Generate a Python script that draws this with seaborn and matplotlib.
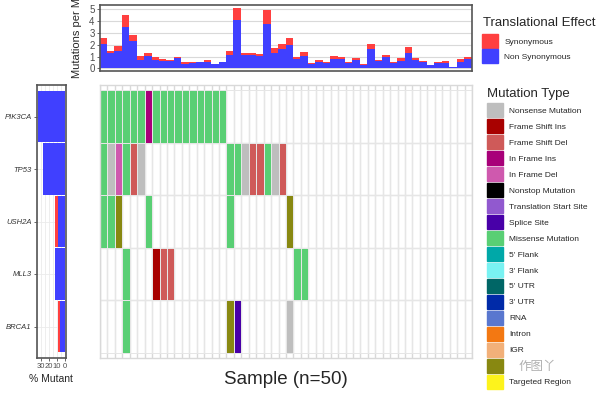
import numpy as np
import matplotlib
matplotlib.use('Agg')
import matplotlib.pyplot as plt
from matplotlib.colors import ListedColormap
from matplotlib.patches import Patch
import seaborn as sns

# ---- data ----
genes = ['PIK3CA', 'TP53', 'USH2A', 'MLL3', 'BRCA1']
n_samples = 50

mutation_types = ['Nonsense Mutation', 'Frame Shift Ins', 'Frame Shift Del', 'In Frame Ins',
                  'In Frame Del', 'Nonstop Mutation', 'Translation Start Site', 'Splice Site',
                  'Missense Mutation', "5' Flank", "3' Flank", "5' UTR", "3' UTR", 'RNA',
                  'Intron', 'IGR', 'Silent', 'Targeted Region']
type_colors = ['#BEBEBE', '#A80100', '#CF5A59', '#A80079', '#CF59AE', '#000000', '#9159CF',
               '#4800A8', '#59CF74', '#00A8A8', '#79F2F2', '#006666', '#002AA8', '#5977CF',
               '#F37812', '#F2B079', '#888811', '#FDF31C']
synonymous_types = ['Silent']

# mutated samples (1-based) and their mutation type, per gene
pik3ca_samples = list(range(1, 18))
pik3ca_types = ['Missense Mutation'] * 6 + ['In Frame Ins'] + ['Missense Mutation'] * 10
tp53_samples = [1, 2, 3, 4, 5, 6, 18, 19, 20, 21, 22, 23, 24, 25]
tp53_types = ['Missense Mutation', 'Nonsense Mutation', 'In Frame Del', 'Missense Mutation',
              'Frame Shift Del', 'Nonsense Mutation', 'Missense Mutation', 'Missense Mutation',
              'Nonsense Mutation', 'Frame Shift Del', 'Frame Shift Del', 'Missense Mutation',
              'Nonsense Mutation', 'Frame Shift Del']
ush2a_samples = [1, 2, 3, 7, 18, 26]
ush2a_types = ['Missense Mutation', 'Missense Mutation', 'Silent', 'Missense Mutation',
               'Missense Mutation', 'Silent']
mll3_samples = [4, 8, 9, 10, 27, 28]
mll3_types = ['Missense Mutation', 'Frame Shift Ins', 'Frame Shift Del', 'Frame Shift Del',
              'Missense Mutation', 'Missense Mutation']
brca1_samples = [4, 18, 19, 26]
brca1_types = ['Missense Mutation', 'Silent', 'Splice Site', 'Nonsense Mutation']

# mutations per MB per sample
nonsyn_burden = [2.1, 1.33, 1.5, 3.5, 2.3, 0.68, 1.07, 0.72, 0.6, 0.6,
                 0.85, 0.4, 0.43, 0.55, 0.55, 0.38, 0.5, 1.12, 4.1, 1.1,
                 1.1, 1.05, 3.8, 1.33, 1.65, 2.0, 0.8, 1.05, 0.4, 0.57,
                 0.43, 0.8, 0.8, 0.43, 0.68, 0.3, 1.65, 0.6, 1.0, 0.43,
                 0.65, 1.27, 0.68, 0.5, 0.25, 0.45, 0.45, 0.1, 0.5, 0.77]
syn_burden = [0.5, 0.17, 0.4, 1.0, 0.55, 0.37, 0.26, 0.28, 0.17, 0.12,
              0.15, 0.15, 0.07, 0.02, 0.17, 0.0, 0.05, 0.35, 1.0, 0.17,
              0.23, 0.15, 1.15, 0.42, 0.45, 0.55, 0.2, 0.3, 0.03, 0.15,
              0.14, 0.25, 0.15, 0.12, 0.22, 0.03, 0.45, 0.12, 0.1, 0.12,
              0.25, 0.5, 0.22, 0.12, 0.05, 0.1, 0.15, 0.02, 0.3, 0.18]

# ---- style ----
sns.set_style('white')
plt.rcParams['font.family'] = ['Liberation Sans', 'Noto Sans CJK SC', 'DejaVu Sans']

RED = '#FF4040'
BLUE = '#4040FF'
GRID = '#D9D9D9'
FRAME = '#555555'

W, H = 600, 397
fig = plt.figure(figsize=(6, 3.97), dpi=100)


def box(x0, y0, x1, y1):
    return [x0 / W, 1 - y1 / H, (x1 - x0) / W, (y1 - y0) / H]


ax_top = fig.add_axes(box(99.5, 5, 471.5, 71))
ax_main = fig.add_axes(box(100, 85, 472, 358))
ax_left = fig.add_axes(box(36.5, 85, 66, 358))

# ---- mutation matrix ----
calls = {
    'PIK3CA': (pik3ca_samples, pik3ca_types),
    'TP53': (tp53_samples, tp53_types),
    'USH2A': (ush2a_samples, ush2a_types),
    'MLL3': (mll3_samples, mll3_types),
    'BRCA1': (brca1_samples, brca1_types),
}
mat = np.full((len(genes), n_samples), np.nan)
for gi, g in enumerate(genes):
    samples, types = calls[g]
    for s, t in zip(samples, types):
        mat[gi, s - 1] = mutation_types.index(t)

cmap = ListedColormap(type_colors)
for x in range(n_samples + 1):
    ax_main.axvline(x, color=GRID, lw=1, zorder=0.5)
for y in range(1, len(genes)):
    ax_main.axhline(y, color=GRID, lw=1, zorder=0.5)
sns.heatmap(mat, mask=np.isnan(mat), cmap=cmap, vmin=-0.5, vmax=len(type_colors) - 0.5,
            cbar=False, linewidths=0.6, linecolor='#E6E6E6', ax=ax_main,
            xticklabels=False, yticklabels=False)
ax_main.set_xlim(0, n_samples)
ax_main.set_ylim(len(genes) + 0.1, -0.1)
for s in ax_main.spines.values():
    s.set_visible(True)
    s.set_color(GRID)
    s.set_linewidth(1)
ax_main.tick_params(left=False, bottom=False)
fig.text(286 / W, 1 - 380 / H, 'Sample (n=50)', ha='center', va='center', fontsize=13.5)

# ---- top: mutation burden ----
sample_idx = np.arange(n_samples)
total_burden = np.array(nonsyn_burden) + np.array(syn_burden)
sns.barplot(x=sample_idx, y=total_burden, color=RED, width=1, saturation=1,
            linewidth=0, errorbar=None, ax=ax_top)
sns.barplot(x=sample_idx, y=nonsyn_burden, color=BLUE, width=1, saturation=1,
            linewidth=0, errorbar=None, ax=ax_top)
ax_top.set_xlim(-0.5, n_samples - 0.5)
ax_top.set_ylim(-0.23, 5.37)
ax_top.set_yticks(range(6))
ax_top.set_xticks([])
ax_top.set_xlabel('')
ax_top.yaxis.grid(True, color=GRID, lw=0.8)
ax_top.set_axisbelow(True)
for s in ax_top.spines.values():
    s.set_color(FRAME)
    s.set_linewidth(1.2)
ax_top.tick_params(axis='y', labelsize=7, labelcolor='#4D4D4D', length=2, width=0.6,
                   color='#4D4D4D', pad=1.5, left=True)
ax_top.set_ylabel('Mutations per MB', fontsize=8)
ax_top.yaxis.set_label_coords((82 - 99.5) / 372, (71 - 34) / 66)

# ---- left: % mutant ----
nonsyn_pct = []
syn_pct = []
for g in genes:
    _, types = calls[g]
    syn = sum(t in synonymous_types for t in types)
    syn_pct.append(100 * syn / n_samples)
    nonsyn_pct.append(100 * (len(types) - syn) / n_samples)
total_pct = np.array(nonsyn_pct) + np.array(syn_pct)
sns.barplot(x=total_pct, y=genes, orient='h', color=RED, width=0.98, saturation=1,
            linewidth=0, errorbar=None, ax=ax_left)
sns.barplot(x=nonsyn_pct, y=genes, orient='h', color=BLUE, width=0.98, saturation=1,
            linewidth=0, errorbar=None, ax=ax_left)
ax_left.set_xlim(35.7, -1.7)
ax_left.set_ylim(len(genes) - 0.4, -0.6)
ax_left.set_xticks([30, 20, 10, 0])
ax_left.set_xticks([35, 25, 15, 5], minor=True)
ax_left.xaxis.grid(True, which='both', color='#EBEBEB', lw=0.6)
ax_left.yaxis.grid(True, color='#EBEBEB', lw=0.6)
ax_left.set_axisbelow(True)
for s in ax_left.spines.values():
    s.set_color(FRAME)
    s.set_linewidth(1.2)
ax_left.tick_params(axis='x', which='major', labelsize=5.5, labelcolor='#4D4D4D', length=2,
                    width=0.6, color='#4D4D4D', pad=1.5, bottom=True)
ax_left.tick_params(axis='x', which='minor', length=0)
ax_left.tick_params(axis='y', labelsize=5.5, labelcolor='#333333', length=2, width=0.6,
                    color='#4D4D4D', pad=1.5, left=True)
for lab in ax_left.get_yticklabels():
    lab.set_fontstyle('italic')
ax_left.set_ylabel('')
ax_left.set_xlabel('% Mutant', fontsize=7.5, labelpad=3)

# ---- legends ----
leg_kw = dict(loc='upper left', frameon=False, fontsize=6, handlelength=1.85,
              handletextpad=0.8, borderpad=0, borderaxespad=0)

fig.text(482.7 / W, 1 - 26.5 / H, 'Translational Effect', fontsize=9.5, va='baseline')
fig.legend(handles=[Patch(color=RED), Patch(color=BLUE)],
           labels=['Synonymous', 'Non Synonymous'],
           bbox_to_anchor=(482.3 / W, 1 - 34 / H), handleheight=2.21, labelspacing=0.12,
           **leg_kw)

fig.text(487.3 / W, 1 - 96.5 / H, 'Mutation Type', fontsize=9.5, va='baseline')
type_labels = [t if t != 'Silent' else '' for t in mutation_types]
fig.legend(handles=[Patch(color=c) for c in type_colors], labels=type_labels,
           bbox_to_anchor=(487.3 / W, 1 - 103 / H), handleheight=2.265, labelspacing=0.2,
           **leg_kw)

# watermark over the 'Silent' entry
fig.text(537 / W, 1 - 367 / H, '作图丫', fontsize=9, color='#B0B0B0', ha='center', va='center')

fig.savefig('out.png', dpi=100)
